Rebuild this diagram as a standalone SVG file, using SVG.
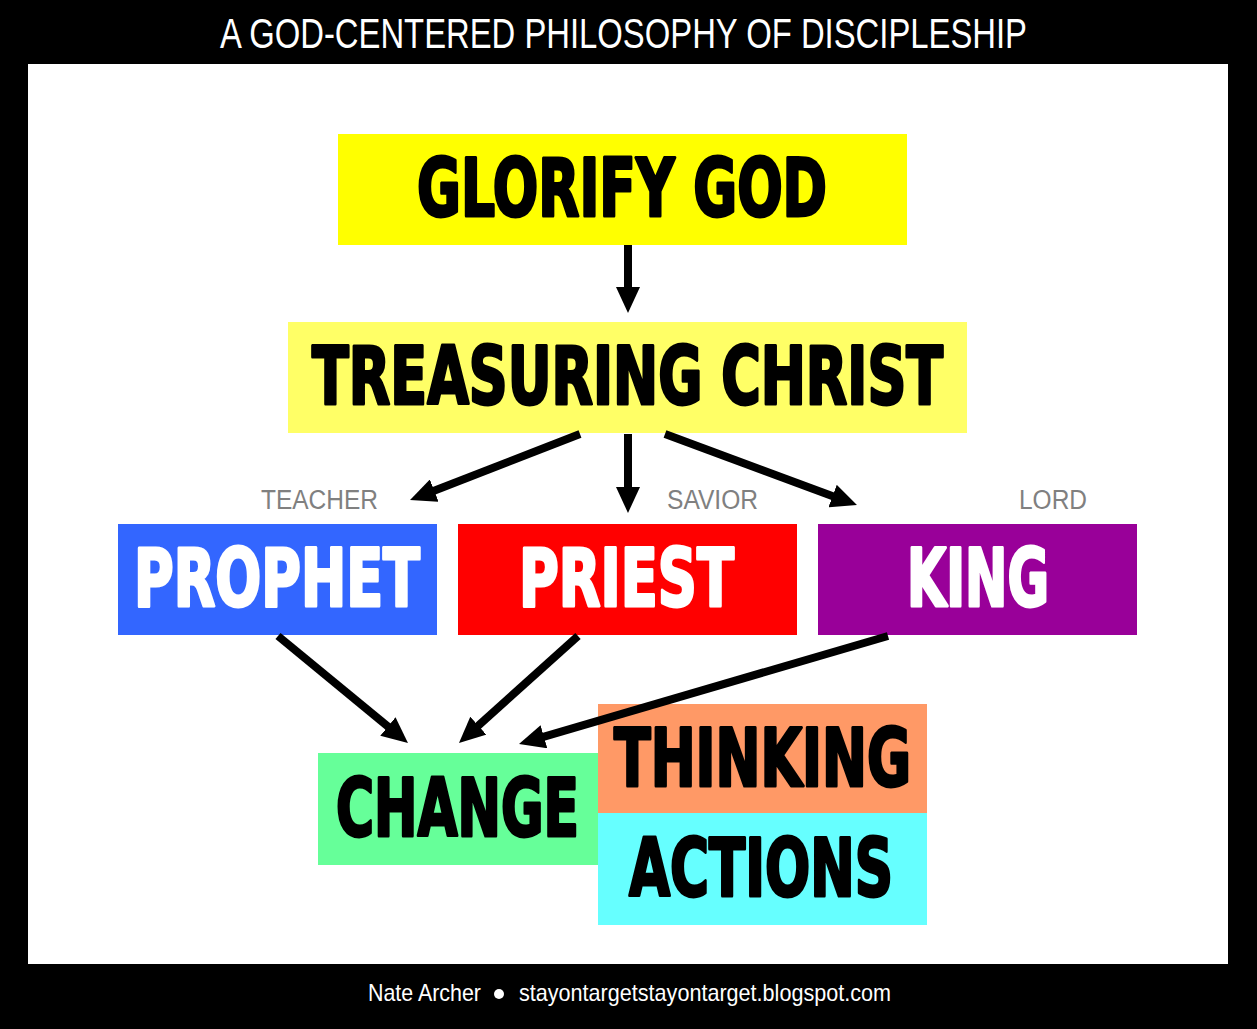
<svg xmlns="http://www.w3.org/2000/svg" width="1257" height="1029" viewBox="0 0 1257 1029">
<defs>
<style>
.big{font-family:"DejaVu Sans Condensed","DejaVu Sans",sans-serif;font-weight:bold;font-stretch:condensed;font-size:80px;stroke-width:3;stroke-linejoin:round}
.dark{fill:#000;stroke:#000}
.light{fill:#fff;stroke:#fff}
.lbl{font-family:"Liberation Sans",Arial,sans-serif;font-size:27px;fill:#808080}
.hdr{font-family:"Liberation Sans",Arial,sans-serif;fill:#fff}
.conn line{stroke:#000;stroke-width:8;marker-end:url(#ah)}
</style>
<marker id="ah" markerUnits="userSpaceOnUse" markerWidth="26" markerHeight="24" refX="14" refY="12" orient="auto" viewBox="0 0 26 24">
<path d="M0,0 L26,12 L0,24 z" fill="#000"/>
</marker>
</defs>
<rect x="0" y="0" width="1257" height="1029" fill="#000"/>
<rect x="28" y="64" width="1200" height="900" fill="#fff"/>
<text class="hdr" x="220" y="48" font-size="42" textLength="807" lengthAdjust="spacingAndGlyphs">A GOD-CENTERED PHILOSOPHY OF DISCIPLESHIP</text>
<g id="footer">
<text class="hdr" x="368" y="1001" font-size="24" textLength="113" lengthAdjust="spacingAndGlyphs">Nate Archer</text>
<circle cx="499" cy="994" r="5" fill="#fff"/>
<text class="hdr" x="519" y="1001" font-size="24" textLength="372" lengthAdjust="spacingAndGlyphs">stayontargetstayontarget.blogspot.com</text>
</g>
<g id="glorify">
<rect x="338" y="134" width="569" height="111" fill="#ffff00"/>
<text class="big dark" x="417" y="216" textLength="410" lengthAdjust="spacingAndGlyphs">GLORIFY GOD</text>
</g>
<g id="treasuring">
<rect x="288" y="322" width="679" height="111" fill="#ffff66"/>
<text class="big dark" x="312" y="404" textLength="631" lengthAdjust="spacingAndGlyphs">TREASURING CHRIST</text>
</g>
<g id="teacher"><text class="lbl" x="261" y="509" textLength="117" lengthAdjust="spacingAndGlyphs">TEACHER</text></g>
<g id="savior"><text class="lbl" x="667" y="509" textLength="91" lengthAdjust="spacingAndGlyphs">SAVIOR</text></g>
<g id="lord"><text class="lbl" x="1019" y="509" textLength="68" lengthAdjust="spacingAndGlyphs">LORD</text></g>
<g id="prophet">
<rect x="118" y="524" width="319" height="111" fill="#3366ff"/>
<text class="big light" x="134" y="606" textLength="286" lengthAdjust="spacingAndGlyphs">PROPHET</text>
</g>
<g id="priest">
<rect x="458" y="524" width="339" height="111" fill="#ff0000"/>
<text class="big light" x="519" y="606" textLength="215" lengthAdjust="spacingAndGlyphs">PRIEST</text>
</g>
<g id="king">
<rect x="818" y="524" width="319" height="111" fill="#990099"/>
<text class="big light" x="907" y="606" textLength="142" lengthAdjust="spacingAndGlyphs">KING</text>
</g>
<g id="change">
<rect x="318" y="753" width="280" height="112" fill="#66ff99"/>
<text class="big dark" x="336" y="836" textLength="243" lengthAdjust="spacingAndGlyphs">CHANGE</text>
</g>
<g id="thinking">
<rect x="598" y="704" width="329" height="109" fill="#ff9966"/>
<text class="big dark" x="614" y="786" textLength="297" lengthAdjust="spacingAndGlyphs">THINKING</text>
</g>
<g id="actions">
<rect x="598" y="813" width="329" height="112" fill="#66ffff"/>
<text class="big dark" x="629" y="896" textLength="264" lengthAdjust="spacingAndGlyphs">ACTIONS</text>
</g>
<g id="connectors" class="conn">
<line x1="628" y1="245" x2="628" y2="301"/>
<line x1="580" y1="434" x2="421.2" y2="495.7"/>
<line x1="628" y1="434" x2="628" y2="501"/>
<line x1="665" y1="434" x2="845.7" y2="500.9"/>
<line x1="278" y1="636" x2="398.7" y2="735.4"/>
<line x1="578" y1="636" x2="467.9" y2="735"/>
<line x1="888" y1="636" x2="530.5" y2="740.6"/>
</g>
</svg>
